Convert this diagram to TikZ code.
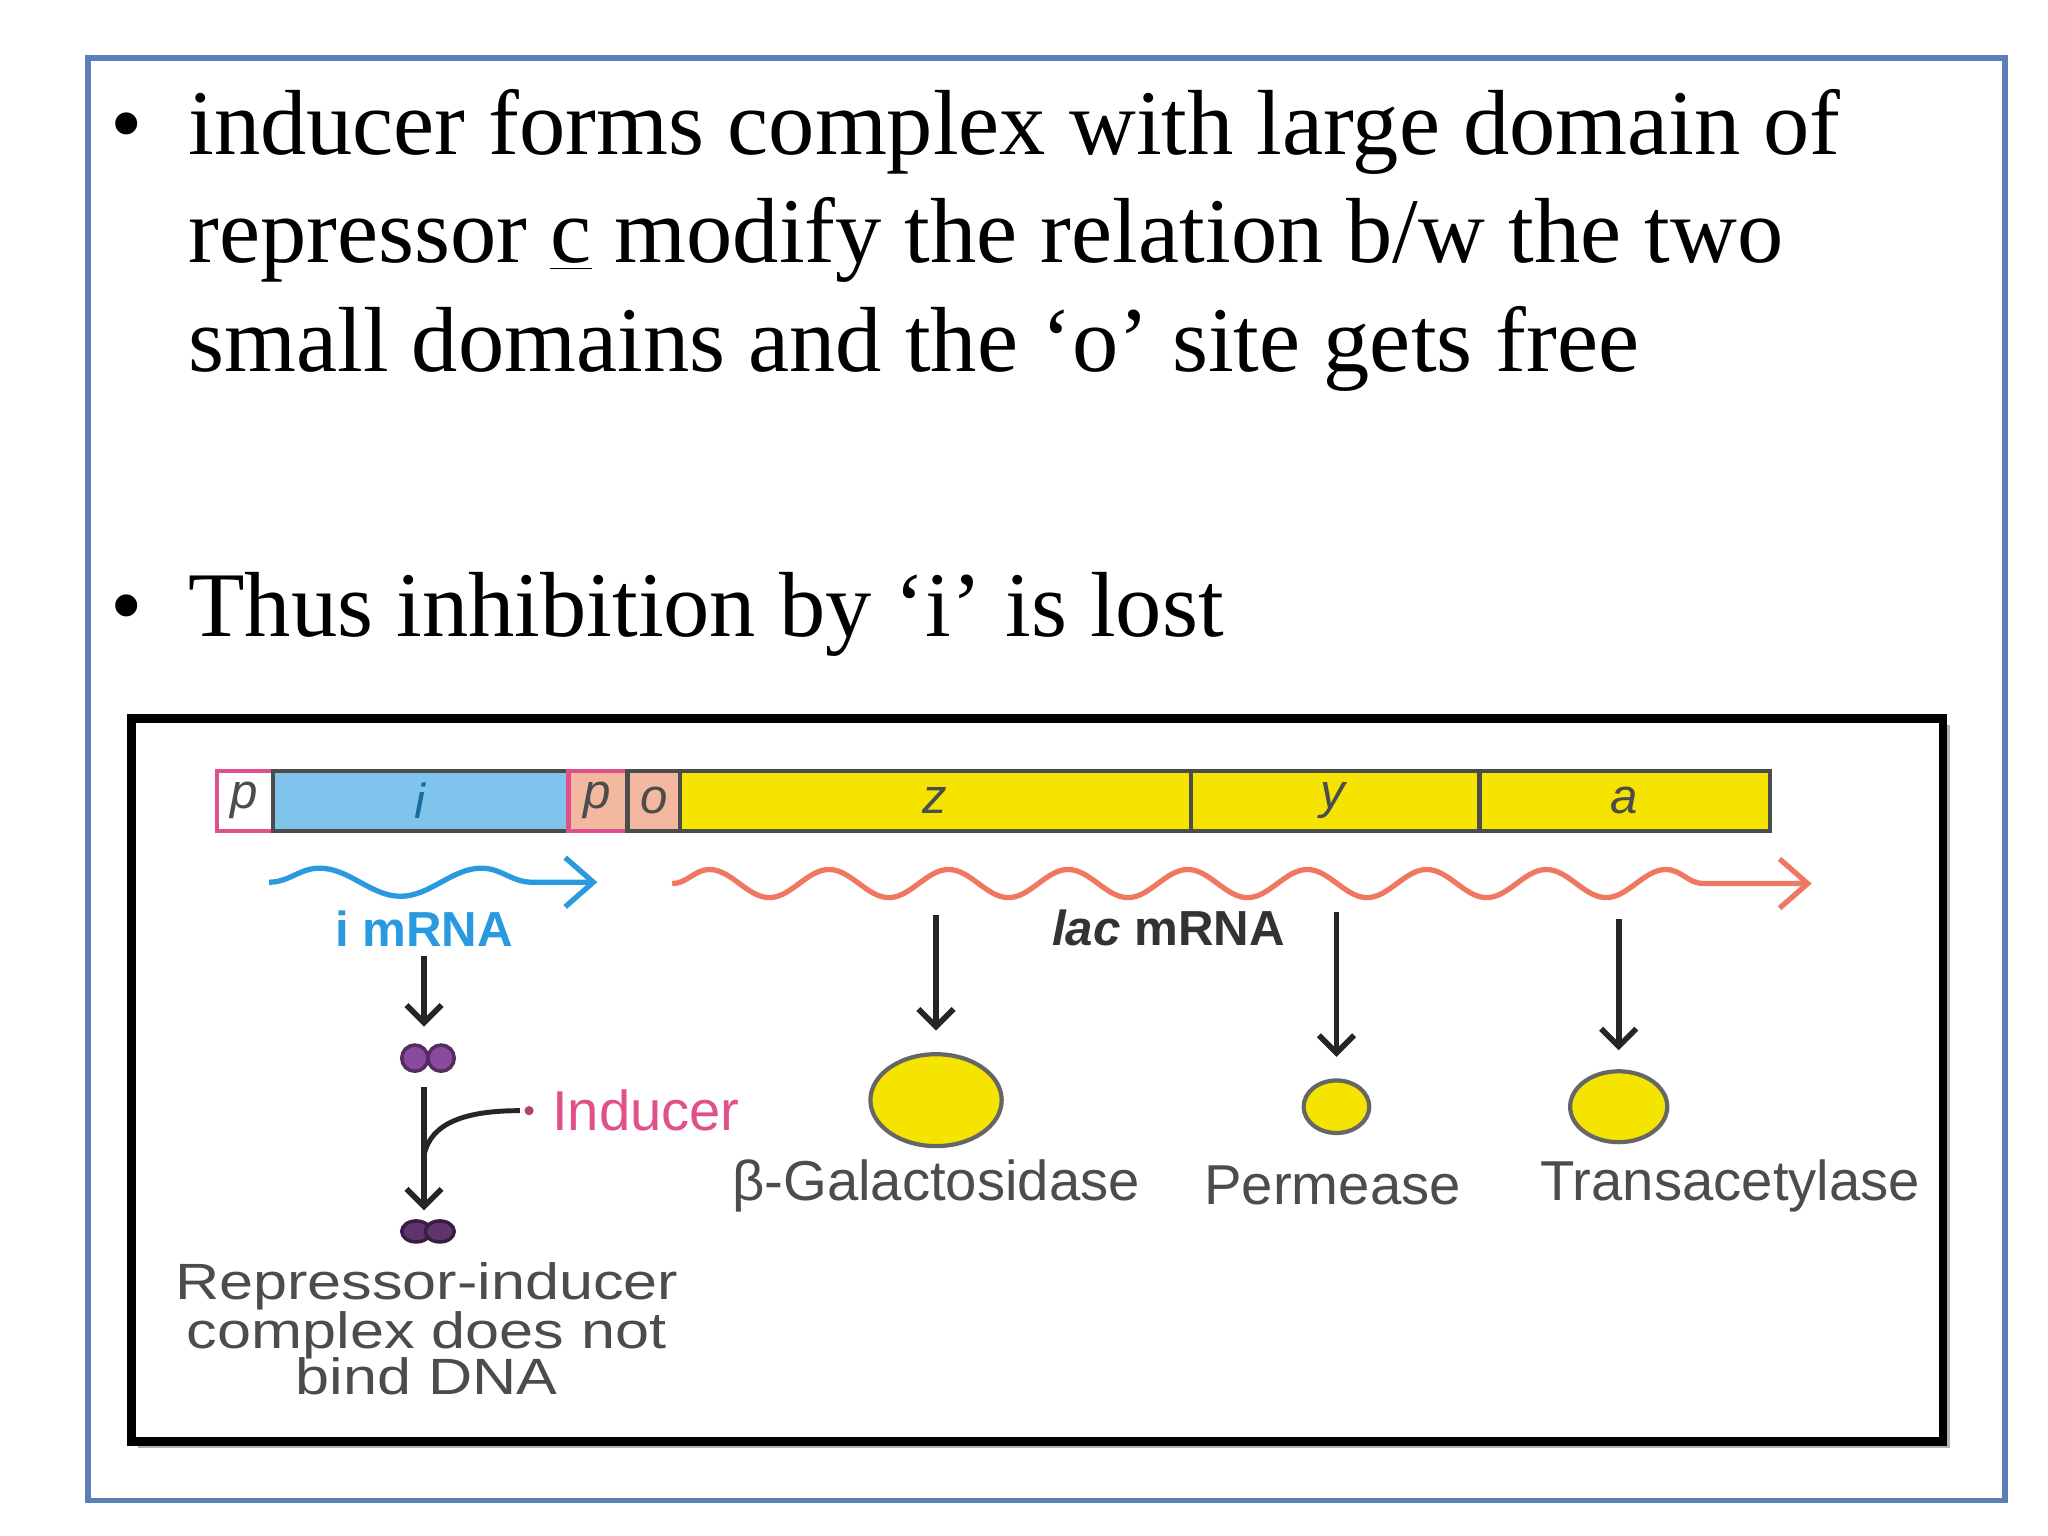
\documentclass[tikz,border=0pt]{standalone}
\usepackage{fontspec}
\setmainfont{Liberation Serif}
\newfontfamily\dsans{Liberation Sans}
\newfontfamily\wsans[FakeStretch=1.2]{Liberation Sans}
\usetikzlibrary{decorations.pathmorphing,arrows.meta}
\definecolor{bbox}{HTML}{5B7DB8}
\definecolor{genblue}{HTML}{7EC4EC}
\definecolor{gensal}{HTML}{F2B8A0}
\definecolor{genyel}{HTML}{F5E400}
\definecolor{genpink}{HTML}{E0508A}
\definecolor{mblue}{HTML}{2A9AE0}
\definecolor{mred}{HTML}{F07860}
\definecolor{rep}{HTML}{8A4AA0}
\begin{document}
\begin{tikzpicture}[x=0.013128cm,y=-0.013128cm,
  body/.style={font=\fontsize{26.3}{32}\selectfont,anchor=base west,inner sep=0},
  lbl/.style={font=\dsans\fontsize{16}{18}\selectfont,text=black!70,inner sep=0},
  rl/.style={font=\wsans\fontsize{14.5}{16}\selectfont,text=black!70,inner sep=0,anchor=base},
  gene/.style={draw=black!70,line width=1.2pt},
  gl/.style={font=\dsans\itshape\fontsize{14}{16}\selectfont,text=black!70},
  arr/.style={-{Straight Barb[length=5pt,width=10pt]},line width=1.6pt,black!85},
  prot/.style={draw=black!60,fill=genyel,line width=1.2pt}]
\useasboundingbox (0,0) rectangle (1560,1170);
\fill[white] (0,0) rectangle (1560,1170);
\draw[bbox,line width=1.6pt] (67,44) rectangle (1527,1143);
\node[body] (b1) at (84,118) {\textbullet};
\node[body] (t1) at (143,118) {inducer forms complex with large domain of};
\node[body] (t2) at (143,200) {repressor \underline{c} modify the relation b/w the two};
\node[body] (t3) at (143,283) {small domains and the ‘o’ site gets free};
\node[body] (b2) at (84,485) {\textbullet};
\node[body] (t4) at (143,485) {Thus inhibition by ‘i’ is lost};
% inner box
\fill[black!30] (105,552) rectangle (1485,1103);
\draw[black,line width=2.5pt,fill=white] (100,547) rectangle (1480,1098);
% genes
\draw[gene,draw=genpink,fill=white] (165,587) rectangle (208,633);
\draw[gene,fill=genblue] (208,587) rectangle (433,633);
\draw[gene,draw=genpink,fill=gensal] (433,587) rectangle (478,633);
\draw[gene,fill=gensal] (478,587) rectangle (518,633);
\draw[gene,fill=genyel] (518,587) rectangle (907,633);
\draw[gene,fill=genyel] (907,587) rectangle (1127,633);
\draw[gene,fill=genyel] (1127,587) rectangle (1348,633);
\node[gl] (gp1) at (186,610) {p};
\node[gl,text=mblue!70!black] (gi) at (320,610) {i};
\node[gl] (gp2) at (455,610) {p};
\node[gl] (go) at (498,610) {o};
\node[gl] (gz) at (712,610) {z};
\node[gl] (gy) at (1015,610) {y};
\node[gl] (ga) at (1237,610) {a};
% mRNAs
\coordinate (m1s) at (205,672); \coordinate (m1e) at (455,672);
\draw[mblue,line width=1.5pt,decorate,decoration={snake,amplitude=4pt,segment length=46pt,post length=12pt},-{Straight Barb[length=8pt,width=14pt]}] (m1s) -- (m1e);
\coordinate (m2s) at (512,673); \coordinate (m2e) at (1380,673);
\draw[mred,line width=1.5pt,decorate,decoration={snake,amplitude=4pt,segment length=34pt,post length=14pt},-{Straight Barb[length=8pt,width=14pt]}] (m2s) -- (m2e);
\node[lbl,text=mblue,font=\dsans\bfseries\fontsize{14}{16}\selectfont] (imrna) at (323,707) {i mRNA};
\node[lbl,text=black!80,font=\dsans\bfseries\fontsize{14}{16}\selectfont] (lacm) at (890,707) {\textit{lac} mRNA};
% repressor path
\coordinate (a1s) at (323,728); \coordinate (a1e) at (323,782);
\draw[arr] (a1s) -- (a1e);
\fill[rep,draw=rep!60!black,line width=1pt] (316,806) circle (10);
\fill[rep,draw=rep!60!black,line width=1pt] (336,806) circle (10);
\coordinate (a2s) at (323,828); \coordinate (a2e) at (323,922);
\draw[arr] (a2s) -- (a2e);
\coordinate (ij) at (323,880);
\fill[genpink!80!black] (403,846) circle (3.5);
\coordinate (idot) at (396,846);
\draw[line width=1.4pt,black!85] (ij) .. controls (328,855) and (355,846) .. (idot);
\node[lbl,text=genpink,anchor=west] (ind) at (420,846) {Inducer};
\fill[rep!70!black,draw=rep!40!black,line width=1pt] (317,938) ellipse (11 and 8);
\fill[rep!70!black,draw=rep!40!black,line width=1pt] (335,938) ellipse (11 and 8);
\node[rl] (r1) at (325,990) {Repressor-inducer};
\node[rl] (r2) at (325,1027) {complex does not};
\node[rl] (r3) at (325,1062) {bind DNA};
% lac products
\coordinate (z1) at (713,697); \coordinate (z2) at (713,785);
\coordinate (y1) at (1018,695); \coordinate (y2) at (1018,805);
\coordinate (a3) at (1233,700); \coordinate (a4) at (1233,800);
\draw[arr] (z1) -- (z2); \draw[arr] (y1) -- (y2); \draw[arr] (a3) -- (a4);
\draw[prot] (713,838) ellipse (50 and 35);
\draw[prot] (1018,843) ellipse (25 and 20);
\draw[prot] (1233,843) ellipse (37 and 27);
\node[lbl] (bgal) at (713,903) {β-Galactosidase};
\node[lbl] (perm) at (1015,903) {Permease};
\node[lbl] (trans) at (1318,903) {Transacetylase};
\end{tikzpicture}
\end{document}
